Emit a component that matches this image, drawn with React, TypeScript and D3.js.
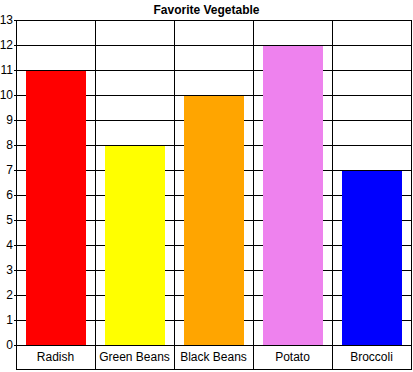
import React, { useEffect, useRef } from "react";
import * as d3 from "d3";

const categories = ["Radish", "Green Beans", "Black Beans", "Potato", "Broccoli"];
const values = [11, 8, 10, 12, 7];
const colors = ["#ff0000", "#ffff00", "#ffa500", "#ee82ee", "#0000ff"];
const yTicks = d3.range(0, 14);

const width = 413;
const height = 372;

const App = () => {
  const ref = useRef<SVGSVGElement>(null);

  useEffect(() => {
    const svg = d3.select(ref.current);
    svg.selectAll("*").remove();

    const left = 16, right = 411, top = 20, bottom = 345, labelBottom = 369;

    const x = d3.scaleBand().domain(categories).range([left, right]);
    const y = d3.scaleLinear().domain([0, 13]).range([bottom, top]);

    svg.append("rect").attr("width", width).attr("height", height).attr("fill", "white");

    // horizontal gridlines + ticks
    svg.append("g")
      .attr("stroke", "black")
      .attr("shape-rendering", "crispEdges")
      .selectAll("line")
      .data(yTicks)
      .join("line")
      .attr("x1", left - 2)
      .attr("x2", right)
      .attr("y1", d => Math.round(y(d)) + 0.5)
      .attr("y2", d => Math.round(y(d)) + 0.5);

    // bars (cover gridlines)
    svg.append("g")
      .attr("shape-rendering", "crispEdges")
      .selectAll("rect")
      .data(values)
      .join("rect")
      .attr("x", (d, i) => Math.round(x(categories[i])! + 10))
      .attr("width", 60)
      .attr("y", d => Math.round(y(d)) + 1)
      .attr("height", d => Math.round(y(0)) - Math.round(y(d)) - 1)
      .attr("fill", (d, i) => colors[i]);

    // vertical lines between categories
    const vlines = categories.map(c => x(c)!).concat([right]);
    svg.append("g")
      .attr("stroke", "black")
      .attr("shape-rendering", "crispEdges")
      .selectAll("line")
      .data(vlines)
      .join("line")
      .attr("x1", d => Math.round(d) + 0.5)
      .attr("x2", d => Math.round(d) + 0.5)
      .attr("y1", top)
      .attr("y2", labelBottom + 1);

    // bottom of label row
    svg.append("line")
      .attr("stroke", "black")
      .attr("shape-rendering", "crispEdges")
      .attr("x1", left)
      .attr("x2", right + 1)
      .attr("y1", labelBottom + 0.5)
      .attr("y2", labelBottom + 0.5);

    // y tick labels
    svg.append("g")
      .attr("font-family", "Liberation Sans, Arial, sans-serif")
      .attr("font-size", 12)
      .attr("text-anchor", "end")
      .selectAll("text")
      .data(yTicks)
      .join("text")
      .attr("x", 13)
      .attr("y", d => y(d))
      .attr("dy", "0.35em")
      .text(d => d);

    // category labels
    svg.append("g")
      .attr("font-family", "Liberation Sans, Arial, sans-serif")
      .attr("font-size", 12)
      .attr("text-anchor", "middle")
      .selectAll("text")
      .data(categories)
      .join("text")
      .attr("x", d => x(d)! + x.bandwidth() / 2)
      .attr("y", (bottom + labelBottom) / 2)
      .attr("dy", "0.35em")
      .text(d => d);

    // title
    svg.append("text")
      .attr("x", width / 2)
      .attr("y", 14)
      .attr("text-anchor", "middle")
      .attr("font-family", "Liberation Sans, Arial, sans-serif")
      .attr("font-size", 12)
      .attr("font-weight", "bold")
      .text("Favorite Vegetable");
  }, []);

  return (
    <svg
      ref={ref}
      width={width}
      height={height}
      style={{ position: "absolute", left: 0, top: 0 }}
    />
  );
};

export default App;
